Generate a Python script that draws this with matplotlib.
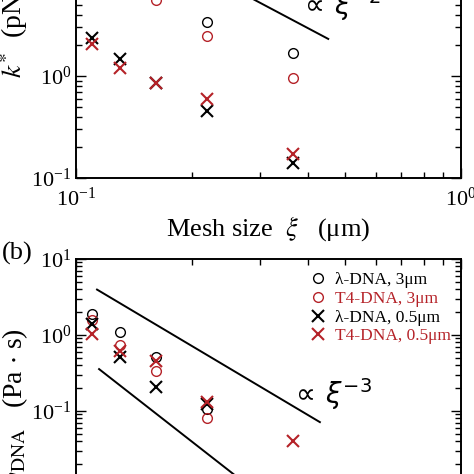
import matplotlib
matplotlib.use("Agg")
import matplotlib.pyplot as plt
import matplotlib.ticker as mticker
import numpy as np

plt.rcParams['font.family'] = ['Liberation Serif', 'DejaVu Serif']
plt.rcParams['mathtext.fontset'] = 'stix'

red = '#b52228'

# mesh size (um)
xi = [0.110, 0.130, 0.161, 0.219, 0.366]

# (a) k* values
k_lam_3 = [25.0, 14.0, 8.0, 3.38, 1.67]
k_t4_3 = [18.0, 10.0, 5.6, 2.48, 0.95]
k_lam_05 = [2.34, 1.46, 0.86, 0.45, 0.141]
k_t4_05 = [2.04, 1.21, 0.85, 0.60, 0.172]

# (b) eta_DNA values
eta_lam_3 = [1.90, 1.10, 0.52, 0.105, np.nan]
eta_t4_3 = [1.56, 0.74, 0.34, 0.080, np.nan]
eta_lam_05 = [1.40, 0.51, 0.205, 0.124, np.nan]
eta_t4_05 = [1.02, 0.62, 0.46, 0.133, 0.040]

# guide lines
guide_a_x = [0.20, 0.452]
guide_a_y = [11.8, 2.31]
guide_b1_x = [0.1134, 0.430]
guide_b1_y = [3.96, 0.0714]
guide_b2_x = [0.1148, 0.26]
guide_b2_y = [0.356, 0.014]

labels = ['λ-DNA, 3μm', 'T4-DNA, 3μm', 'λ-DNA, 0.5μm', 'T4-DNA, 0.5μm']

fig = plt.figure(figsize=(4.74, 4.74), dpi=100)
W = 474.0
ax1 = fig.add_axes([76 / W, 1 - 178 / W, 385 / W, 306 / W])
ax2 = fig.add_axes([76 / W, 1 - 563 / W, 385 / W, 304 / W])


def style(ax):
    ax.set_xscale('log')
    ax.set_yscale('log')
    ax.set_xlim(0.1, 1.0)
    ax.xaxis.set_minor_formatter(mticker.NullFormatter())
    ax.yaxis.set_minor_formatter(mticker.NullFormatter())
    ax.tick_params(which='both', direction='in', top=True, right=True, labelsize=16)
    ax.tick_params(which='major', length=7, width=1)
    ax.tick_params(which='minor', length=4, width=1)
    ax.tick_params(axis='x', pad=7)
    for s in ax.spines.values():
        s.set_linewidth(1.4)


def draw(ax, a, b, c, d):
    ax.plot(xi, a, 'o', ms=7, mfc='none', mec='black', mew=1.0, label=labels[0])
    ax.plot(xi, b, 'o', ms=7, mfc='none', mec=red, mew=1.0, label=labels[1])
    ax.plot(xi, c, 'x', ms=9, mec='black', mew=1.5, label=labels[2])
    ax.plot(xi, d, 'x', ms=9, mec=red, mew=1.5, label=labels[3])


# panel (a)
style(ax1)
ax1.set_ylim(0.1, 100)
draw(ax1, k_lam_3, k_t4_3, k_lam_05, k_t4_05)
ax1.plot(guide_a_x, guide_a_y, color='black', lw=1.4)
ax1.text(0.38, 4.0, r'$\propto\,\xi^{-2}$', fontsize=20, math_fontfamily='dejavusans')
ax1.set_xlabel(r'Mesh size  $\xi$   (μm)', fontsize=19, labelpad=2)

# panel (b)
style(ax2)
ax2.set_ylim(1e-3, 10)
draw(ax2, eta_lam_3, eta_t4_3, eta_lam_05, eta_t4_05)
ax2.plot(guide_b1_x, guide_b1_y, color='black', lw=1.4)
ax2.plot(guide_b2_x, guide_b2_y, color='black', lw=1.4)
ax2.text(0.36, 0.125, r'$\propto\,\xi^{-3}$', fontsize=20, math_fontfamily='dejavusans')
leg = ax2.legend(loc='upper left', bbox_to_anchor=(309 / W, 1 - 272 / W),
                 bbox_transform=fig.transFigure, frameon=False, fontsize=12.5,
                 handlelength=1.0, handletextpad=0.5, labelspacing=0.15,
                 borderpad=0, borderaxespad=0, numpoints=1,
                 labelcolor=['black', red, 'black', red])

# y labels and panel tag
fig.text(14 / W, 1 - 78 / W, r'$k^{*}$  (pN/μm)', rotation=90, fontsize=20,
         ha='center', va='bottom')
fig.text(15 / W, 1 - 328 / W, r'$\eta_{\rm DNA}$   (Pa $\cdot$ s)', rotation=90, fontsize=20,
         ha='center', va='top')
fig.text(17 / W, 1 - 253 / W, '(b)', fontsize=19, ha='center', va='center')

plt.savefig('out.png', dpi=100)
